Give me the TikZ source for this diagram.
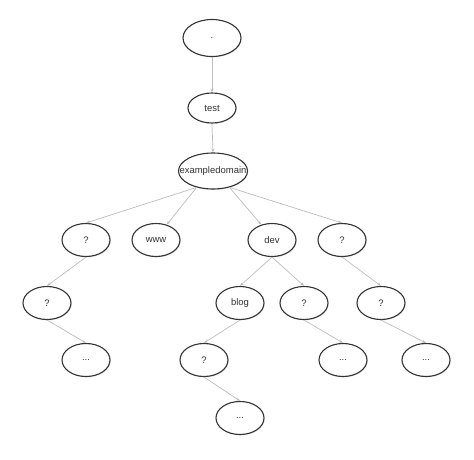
\documentclass[tikz,border=0pt]{standalone}
\usepackage{fontspec}
\setmainfont{Liberation Sans}
\usetikzlibrary{shapes.geometric,arrows.meta,shadows}
\definecolor{edgegray}{rgb}{0.74,0.74,0.74}
\definecolor{linegray}{rgb}{0.2,0.2,0.2}
\tikzstyle{dnsnode} = [ellipse, draw=linegray, line width=1.1bp, fill=white, text=linegray, minimum width=48bp, minimum height=33bp, inner sep=1bp, font=\fontsize{9.5}{11}\selectfont, drop shadow={opacity=0.25, shadow xshift=0.6bp, shadow yshift=-0.9bp}]
\tikzstyle{arrow} = [draw=edgegray, line width=0.7bp, -{Stealth[length=4bp,width=3bp]}]
\begin{document}
\begin{tikzpicture}[x=1bp,y=-1bp]
\useasboundingbox[fill=white] (0,0) rectangle (474,460);
% top of the tree
\node[dnsnode, minimum width=58bp, minimum height=37bp] (root) at (212,38) {.};
\node[dnsnode, minimum height=30bp] (test) at (212,108) {test};
\node[dnsnode, inner xsep=-9bp, minimum height=36bp] (exdom) at (213,171) {exampledomain};
% level 3
\node[dnsnode] (q1) at (86,240) {?};
\node[dnsnode] (www) at (156,240) {www};
\node[dnsnode] (dev) at (272,240) {dev};
\node[dnsnode] (q2) at (342,240) {?};
% level 4
\node[dnsnode] (q3) at (47,303) {?};
\node[dnsnode] (blog) at (240,303) {blog};
\node[dnsnode] (q4) at (304,303) {?};
\node[dnsnode] (q5) at (381,303) {?};
% level 5
\node[dnsnode] (d1) at (86,360) {...};
\node[dnsnode] (q6) at (204,360) {?};
\node[dnsnode] (d2) at (343,360) {...};
\node[dnsnode] (d3) at (426,360) {...};
% level 6
\node[dnsnode] (d4) at (240,418) {...};
\draw[arrow] (root.south)--(test.north);
\draw[arrow] (test.south)--(exdom.north);
\draw[arrow] (exdom.225)--(q1.north);
\draw[arrow] (exdom.225)--(www.55);
\draw[arrow] (exdom.315)--(dev.125);
\draw[arrow] (exdom.315)--(q2.north);
\draw[arrow] (q1.south)--(q3.north);
\draw[arrow] (q3.south)--(d1.north);
\draw[arrow] (dev.south)--(blog.north);
\draw[arrow] (dev.south)--(q4.north);
\draw[arrow] (q2.south)--(q5.north);
\draw[arrow] (blog.south)--(q6.north);
\draw[arrow] (q6.south)--(d4.north);
\draw[arrow] (q4.south)--(d2.north);
\draw[arrow] (q5.south)--(d3.north);
\end{tikzpicture}
\end{document}
